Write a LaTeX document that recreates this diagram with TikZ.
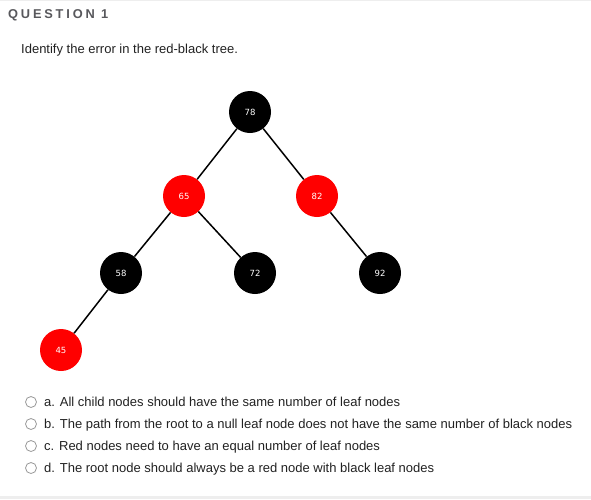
\documentclass[tikz,border=0pt]{standalone}
\usepackage{fontspec}
\setmainfont{Liberation Sans}
\newfontfamily\titlefont[LetterSpace=22]{Liberation Sans}
\newfontfamily\nodefont{DejaVu Sans}
\definecolor{txt}{RGB}{34,34,34}
\definecolor{ttl}{RGB}{88,88,92}
\definecolor{rbred}{RGB}{255,0,0}
\definecolor{band}{RGB}{238,238,238}
\tikzset{
  x=1pt, y=-1pt,
  rb/.style={circle, minimum size=42pt, inner sep=0pt, text=white, font=\nodefont\fontsize{8.5}{10}\selectfont},
  blk/.style={rb, fill=black},
  rd/.style={rb, fill=rbred},
  edge/.style={line width=1.5pt, black},
  txtl/.style={anchor=base west, inner sep=0pt, text=txt, font=\fontsize{13}{15}\selectfont},
  radio/.style={circle, draw=gray!80, line width=0.8pt, minimum size=11pt, inner sep=0pt}
}
\begin{document}
\begin{tikzpicture}
\useasboundingbox (0,0) rectangle (591,499);
\fill[white] (0,0) rectangle (591,499);
\fill[band] (0,496) rectangle (591,499);
\fill[band] (0,0) rectangle (591,1);
\node[anchor=base west, inner sep=0pt, text=ttl, font=\titlefont\bfseries\fontsize{12.8}{15}\selectfont] (title) at (8,18) {QUESTION 1};
\node[txtl] (q) at (21,53.5) {Identify the error in the red-black tree.};
% tree nodes
\node[blk] (n78) at (250,112) {78};
\node[rd] (n65) at (184,196) {65};
\node[rd] (n82) at (317,196) {82};
\node[blk] (n58) at (121,273) {58};
\node[blk] (n72) at (255,273) {72};
\node[blk] (n92) at (380,273) {92};
\node[rd] (n45) at (61,350) {45};
\draw[edge] (n78) -- (n65);
\draw[edge] (n78) -- (n82);
\draw[edge] (n65) -- (n58);
\draw[edge] (n65) -- (n72);
\draw[edge] (n82) -- (n92);
\draw[edge] (n58) -- (n45);
% options
\node[radio] (ra) at (31,402) {};
\node[radio] (rb) at (31,424) {};
\node[radio] (rc) at (31,446) {};
\node[radio] (rd) at (31,468) {};
\node[txtl] (oa) at (44,406.5) {a. All child nodes should have the same number of leaf nodes};
\node[txtl] (ob) at (44,428.5) {b. The path from the root to a null leaf node does not have the same number of black nodes};
\node[txtl] (oc) at (44,450.5) {c. Red nodes need to have an equal number of leaf nodes};
\node[txtl] (od) at (44,472.5) {d. The root node should always be a red node with black leaf nodes};
\end{tikzpicture}
\end{document}
